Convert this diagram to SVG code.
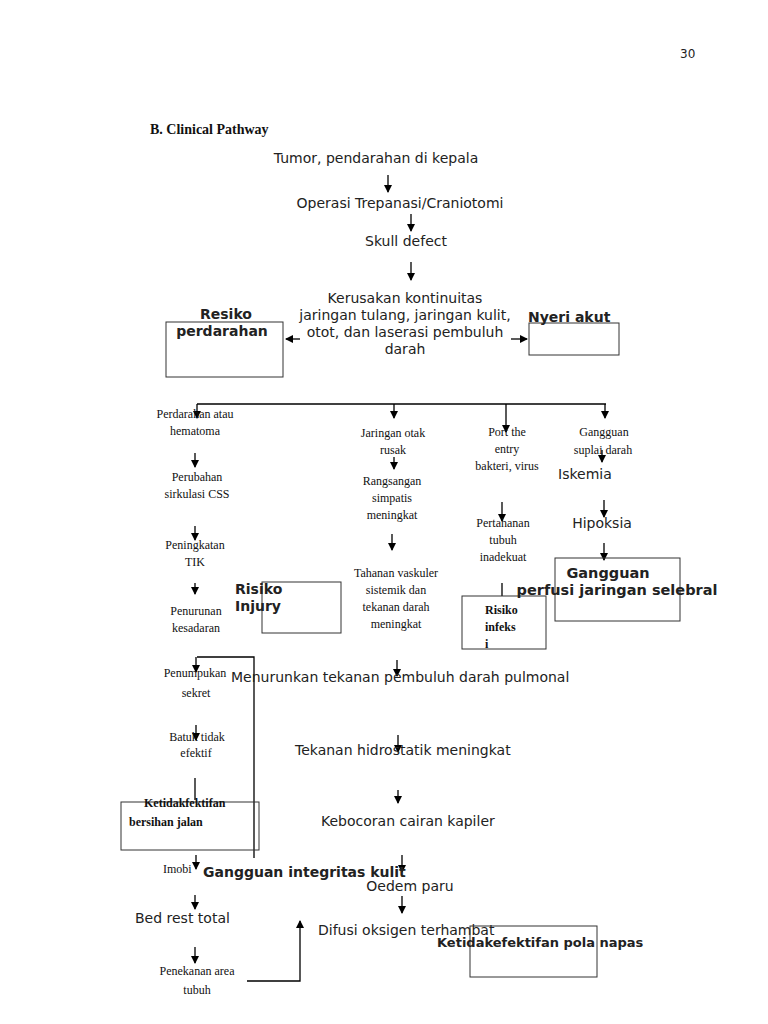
<svg xmlns="http://www.w3.org/2000/svg" width="768" height="1024" viewBox="0 0 768 1024">
<defs>
<marker id="ah" markerWidth="8" markerHeight="8" refX="7" refY="4" orient="auto" markerUnits="userSpaceOnUse"><path d="M0,0 L8,4 L0,8 z" fill="#000"/></marker>
<style>
.s{font-family:"DejaVu Sans",sans-serif;font-size:14px;fill:#222}
.r{font-family:"Liberation Serif",serif;font-size:12px;fill:#111}
.b{font-weight:bold}
.c{text-anchor:middle}
.box{fill:none;stroke:#333;stroke-width:1}
.ln{fill:none;stroke:#000;stroke-width:1.3}
.ar{fill:none;stroke:#000;stroke-width:1.3;marker-end:url(#ah)}
</style>
</defs>
<rect width="768" height="1024" fill="#fff"/>
<text x="680" y="58" class="s" style="font-size:12px">30</text>
<text x="150" y="134" class="r b" style="font-size:14px">B. Clinical Pathway</text>
<g id="connectors">
<line class="ar" x1="388" y1="175" x2="388" y2="192"/>
<line class="ar" x1="411" y1="214" x2="411" y2="231"/>
<line class="ar" x1="411" y1="262" x2="411" y2="280"/>
<line class="ar" x1="300" y1="339" x2="286" y2="339"/>
<line class="ar" x1="511" y1="339" x2="527" y2="339"/>
<polyline class="ln" points="197,404 606,404"/>
<line class="ar" x1="197" y1="404" x2="197" y2="418"/>
<line class="ar" x1="394" y1="404" x2="394" y2="418"/>
<line class="ar" x1="506" y1="404" x2="506" y2="432"/>
<line class="ar" x1="605" y1="404" x2="605" y2="418"/>
<line class="ar" x1="195" y1="453" x2="195" y2="467"/>
<line class="ar" x1="195" y1="526" x2="195" y2="540"/>
<line class="ar" x1="195" y1="583" x2="195" y2="594"/>
<line class="ar" x1="394" y1="457" x2="394" y2="469"/>
<line class="ar" x1="392" y1="534" x2="392" y2="550"/>
<line class="ar" x1="502" y1="502" x2="502" y2="521"/>
<line class="ln" x1="502" y1="583" x2="502" y2="596"/>
<line class="ar" x1="602" y1="450" x2="602" y2="462"/>
<line class="ar" x1="604" y1="500" x2="604" y2="517"/>
<line class="ar" x1="604" y1="543" x2="604" y2="560"/>
<polyline class="ln" points="197,657 254,657 254,858"/>
<line class="ar" x1="196" y1="657" x2="196" y2="672"/>
<line class="ar" x1="397" y1="660" x2="397" y2="676"/>
<line class="ar" x1="196" y1="725" x2="196" y2="740"/>
<line class="ln" x1="195" y1="778" x2="195" y2="800"/>
<line class="ar" x1="398" y1="735" x2="398" y2="752"/>
<line class="ar" x1="398" y1="790" x2="398" y2="803"/>
<line class="ar" x1="196" y1="855" x2="196" y2="869"/>
<line class="ar" x1="402" y1="855" x2="402" y2="872"/>
<line class="ar" x1="402" y1="896" x2="402" y2="913"/>
<line class="ar" x1="195" y1="895" x2="195" y2="909"/>
<line class="ar" x1="195" y1="947" x2="195" y2="963"/>
<polyline class="ar" points="247,981 300,981 300,921"/>
</g>
<g id="n1"><text x="376" y="163" class="s c">Tumor, pendarahan di kepala</text></g>
<g id="n2"><text x="400" y="208" class="s c">Operasi Trepanasi/Craniotomi</text></g>
<g id="n3"><text x="406" y="246" class="s c">Skull defect</text></g>
<g id="n4"><text class="s c"><tspan x="405" y="303">Kerusakan kontinuitas</tspan><tspan x="405" y="320">jaringan tulang, jaringan kulit,</tspan><tspan x="405" y="337">otot, dan laserasi pembuluh</tspan><tspan x="405" y="354">darah</tspan></text></g>
<g id="n5"><rect class="box" x="166" y="322" width="117" height="55"/><text class="s b c"><tspan x="226" y="319">Resiko</tspan><tspan x="222" y="336">perdarahan</tspan></text></g>
<g id="n6"><rect class="box" x="529" y="323" width="90" height="32"/><text x="528" y="322" class="s b">Nyeri akut</text></g>
<g id="n7"><text class="r c"><tspan x="195" y="418">Perdarahan atau</tspan><tspan x="195" y="435">hematoma</tspan></text></g>
<g id="n8"><text class="r c"><tspan x="197" y="481">Perubahan</tspan><tspan x="197" y="498">sirkulasi CSS</tspan></text></g>
<g id="n9"><text class="r c"><tspan x="195" y="549">Peningkatan</tspan><tspan x="195" y="566">TIK</tspan></text></g>
<g id="n10"><text class="r c"><tspan x="196" y="615">Penurunan</tspan><tspan x="196" y="632">kesadaran</tspan></text></g>
<g id="n11"><rect class="box" x="262" y="582" width="79" height="51"/><text class="s b"><tspan x="235" y="594">Risiko</tspan><tspan x="235" y="611">Injury</tspan></text></g>
<g id="n12"><text class="r c"><tspan x="393" y="437">Jaringan otak</tspan><tspan x="393" y="454">rusak</tspan></text></g>
<g id="n13"><text class="r c"><tspan x="392" y="485">Rangsangan</tspan><tspan x="392" y="502">simpatis</tspan><tspan x="392" y="519">meningkat</tspan></text></g>
<g id="n14"><text class="r c"><tspan x="396" y="577">Tahanan vaskuler</tspan><tspan x="396" y="594">sistemik dan</tspan><tspan x="396" y="611">tekanan darah</tspan><tspan x="396" y="628">meningkat</tspan></text></g>
<g id="n15"><text class="r c"><tspan x="507" y="436">Port the</tspan><tspan x="507" y="453">entry</tspan><tspan x="507" y="470">bakteri, virus</tspan></text></g>
<g id="n16"><text class="r c"><tspan x="503" y="527">Pertahanan</tspan><tspan x="503" y="544">tubuh</tspan><tspan x="503" y="561">inadekuat</tspan></text></g>
<g id="n17"><rect class="box" x="462" y="596" width="84" height="53"/><text class="r b"><tspan x="485" y="614">Risiko</tspan><tspan x="485" y="631">infeks</tspan><tspan x="485" y="648">i</tspan></text></g>
<g id="n18"><text class="r c"><tspan x="604" y="436">Gangguan</tspan><tspan x="603" y="454">suplai darah</tspan></text></g>
<g id="n19"><text x="558" y="479" class="s">Iskemia</text></g>
<g id="n20"><text x="602" y="528" class="s c">Hipoksia</text></g>
<g id="n21"><rect class="box" x="555" y="558" width="125" height="63"/><text class="s b c" style="font-size:14.5px"><tspan x="608" y="578">Gangguan</tspan><tspan x="617" y="595">perfusi jaringan selebral</tspan></text></g>
<g id="n22"><text class="r c"><tspan x="195" y="677">Penumpukan</tspan><tspan x="196" y="697">sekret</tspan></text></g>
<g id="n23"><text x="231" y="682" class="s">Menurunkan tekanan pembuluh darah pulmonal</text></g>
<g id="n24"><text class="r c"><tspan x="197" y="741">Batuk tidak</tspan><tspan x="196" y="757">efektif</tspan></text></g>
<g id="n25"><text x="295" y="755" class="s">Tekanan hidrostatik meningkat</text></g>
<g id="n26"><rect class="box" x="121" y="802" width="138" height="48"/><text class="r b"><tspan x="144" y="807">Ketidakfektifan</tspan><tspan x="129" y="826">bersihan jalan</tspan></text></g>
<g id="n27"><text x="321" y="826" class="s">Kebocoran cairan kapiler</text></g>
<g id="n28"><text x="163" y="873" class="r">Imobi</text><text x="203" y="877" class="s b">Gangguan integritas kulit</text></g>
<g id="n29"><text x="410" y="891" class="s c">Oedem paru</text></g>
<g id="n30"><text x="135" y="923" class="s">Bed rest total</text></g>
<g id="n31"><text x="318" y="935" class="s">Difusi oksigen terhambat</text></g>
<g id="n32"><rect class="box" x="470" y="926" width="127" height="51"/><text x="437" y="947" class="s b" style="font-size:13px">Ketidakefektifan pola napas</text></g>
<g id="n33"><text class="r c"><tspan x="197" y="975">Penekanan area</tspan><tspan x="197" y="994">tubuh</tspan></text></g>
</svg>
